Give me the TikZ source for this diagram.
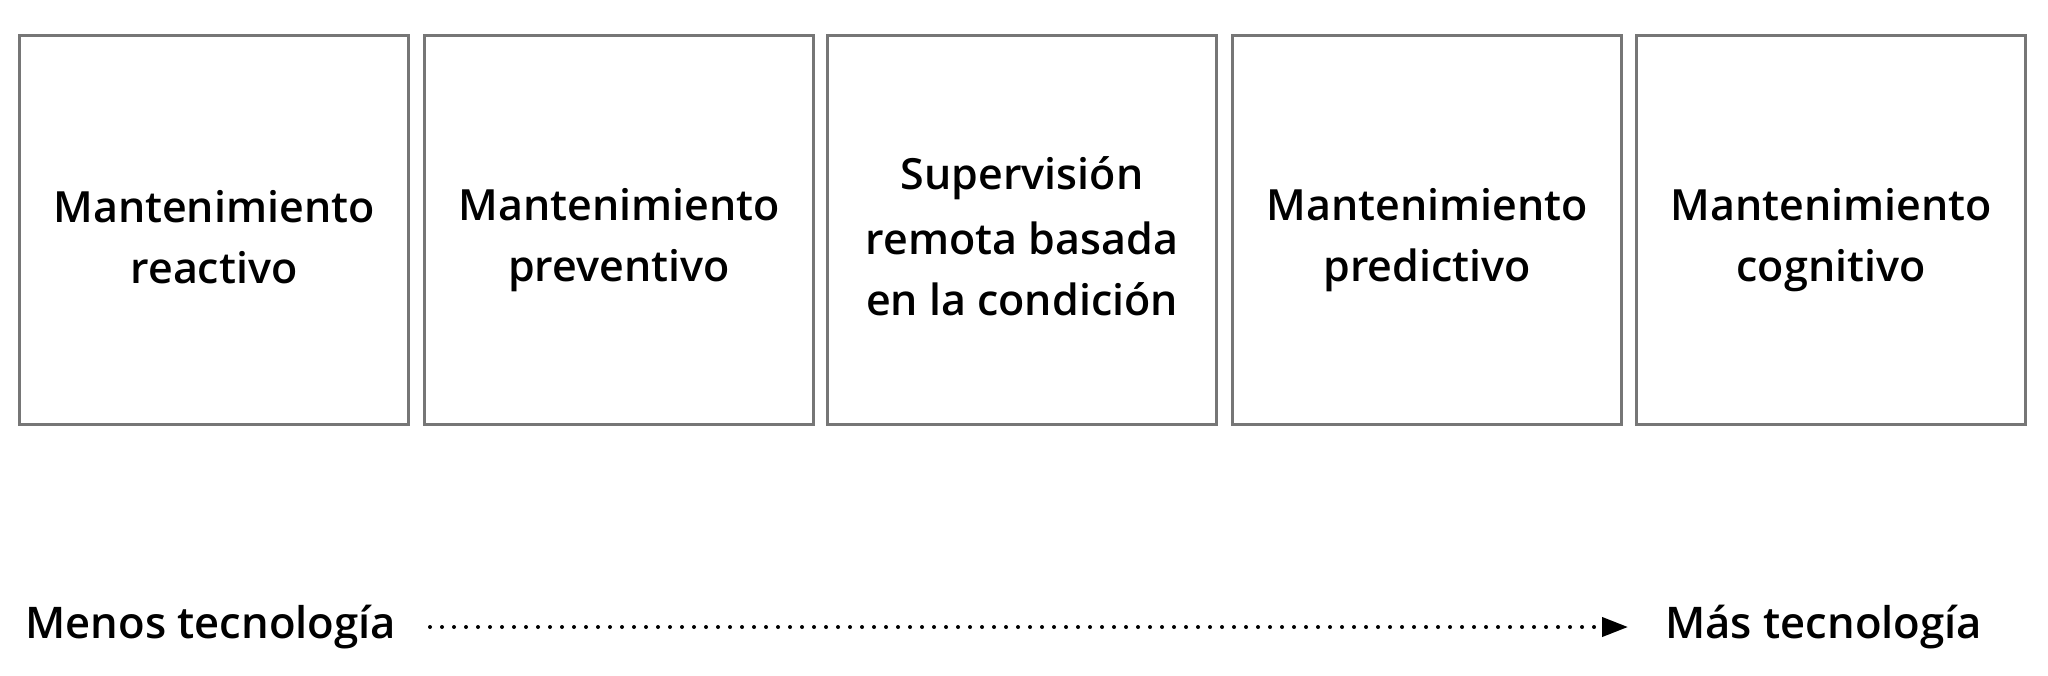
\documentclass[tikz,border=0pt]{standalone}
\usepackage{fontspec}
\IfFontExistsTF{Open Sans Semibold}{\setmainfont{Open Sans Semibold}}{%
  \IfFontExistsTF{Open Sans SemiBold}{\setmainfont{Open Sans SemiBold}}{%
    \setmainfont{Open Sans}[UprightFeatures={FakeBold=2.5}]}}
\usetikzlibrary{arrows.meta}
\definecolor{boxgray}{RGB}{118,118,118}
\newcommand{\lnstrut}{\rule[-4pt]{0pt}{30.5pt}}
\begin{document}
\begin{tikzpicture}[x=0.5pt,y=-0.5pt,
  box/.style={draw=boxgray,line width=1.5pt,minimum width=194.5pt,minimum height=194.5pt,inner sep=0pt,align=center,font=\fontsize{21.5pt}{30.5pt}\selectfont},
  endlabel/.style={anchor=base west,inner sep=0pt,font=\fontsize{21.8pt}{26pt}\selectfont},
  dotline/.style={line width=2pt,line cap=round,dash pattern=on 0pt off 6pt,-{Triangle[length=13pt,width=9.5pt]}}]
\useasboundingbox (0,0) rectangle (2048,675);
\node[box] (b1) at (214,230) {\lnstrut Mantenimiento\\\lnstrut reactivo};
\node[box] (b2) at (619,230) {\lnstrut Mantenimiento\\\lnstrut preventivo};
\node[box] (b3) at (1022,230) {\lnstrut Supervisión\\\lnstrut remota basada\\\lnstrut en la condición};
\node[box] (b4) at (1427,230) {\lnstrut Mantenimiento\\\lnstrut predictivo};
\node[box] (b5) at (1831,230) {\lnstrut Mantenimiento\\\lnstrut cognitivo};
\node[endlabel] (lo) at (25,638) {Menos tecnología};
\node[endlabel] (hi) at (1665,638) {Más tecnología};
\coordinate (ds) at (430,627);
\coordinate (de) at (1628,627);
\draw[dotline] (ds) -- (de);
\end{tikzpicture}
\end{document}
